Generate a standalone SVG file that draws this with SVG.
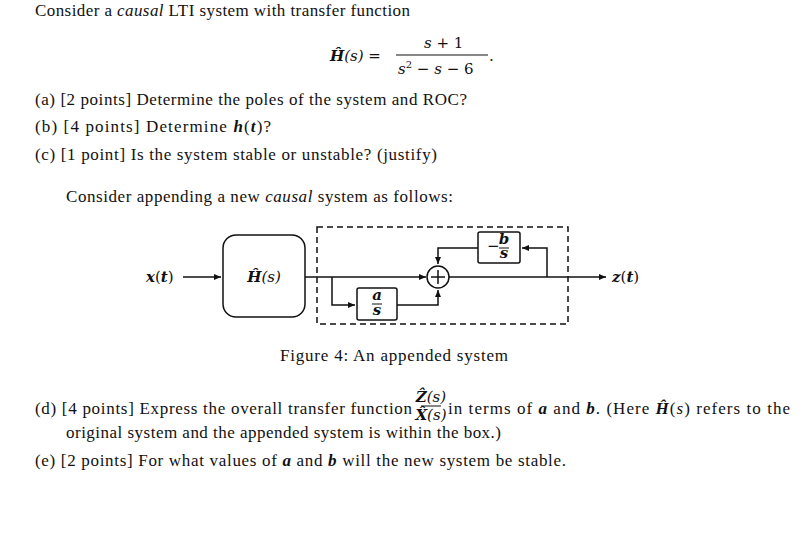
<svg xmlns="http://www.w3.org/2000/svg" width="804" height="536" viewBox="0 0 804 536">
<defs>
<style>
.t{font-family:"Liberation Serif",serif;font-size:17px;fill:#111}
.m{font-family:"DejaVu Serif","Liberation Serif",serif;font-size:15px;fill:#111;font-style:italic;font-weight:bold}
.mn{font-family:"DejaVu Serif",serif;font-size:15px;fill:#111}
.ln{stroke:#111;stroke-width:1.5;fill:none}
.bx{stroke:#111;stroke-width:1.5;fill:#fff}
</style>
<marker id="ar" markerWidth="8" markerHeight="8" refX="7" refY="4" orient="auto" markerUnits="userSpaceOnUse"><path d="M0,1 L7,4 L0,7 Z" fill="#111"/></marker>
</defs>
<rect width="804" height="536" fill="#fff"/>
<text class="t" x="35" y="16" textLength="375" lengthAdjust="spacing">Consider a <tspan font-style="italic">causal</tspan> LTI system with transfer function</text>
<text class="m" x="330" y="61">Ĥ<tspan font-weight="normal">(s) =</tspan></text>
<text class="mn" x="424" y="48" font-style="italic">s<tspan font-style="normal"> + 1</tspan></text>
<line x1="396" y1="55" x2="488" y2="55" stroke="#111" stroke-width="1"/>
<text class="mn" x="398" y="74" font-style="italic">s<tspan font-size="10" dy="-6" font-style="normal">2</tspan><tspan dy="6" font-style="normal"> − </tspan>s<tspan font-style="normal"> − 6</tspan></text>
<text class="mn" x="489" y="61">.</text>
<text class="t" x="35" y="105" textLength="432" lengthAdjust="spacing">(a)  [2 points]  Determine the poles of the system and ROC?</text>
<text class="t" x="35" y="132" textLength="236" lengthAdjust="spacing">(b)  [4 points]  Determine <tspan font-style="italic" font-weight="bold">h</tspan>(<tspan font-style="italic" font-weight="bold">t</tspan>)?</text>
<text class="t" x="35" y="160" textLength="402" lengthAdjust="spacing">(c)  [1 point]  Is the system stable or unstable? (justify)</text>
<text class="t" x="66" y="202" textLength="387" lengthAdjust="spacing">Consider appending a new <tspan font-style="italic">causal</tspan> system as follows:</text>
<g id="connectors">
<line class="ln" x1="183" y1="277" x2="221" y2="277" marker-end="url(#ar)"/>
<line class="ln" x1="305" y1="277" x2="426" y2="277" marker-end="url(#ar)"/>
<polyline class="ln" points="332,277 332,305 355,305" marker-end="url(#ar)"/>
<polyline class="ln" points="397,305 438,305 438,290" marker-end="url(#ar)"/>
<line class="ln" x1="449" y1="277" x2="606" y2="277" marker-end="url(#ar)"/>
<polyline class="ln" points="547,277 547,248 522,248" marker-end="url(#ar)"/>
<polyline class="ln" points="478,248 438,248 438,264" marker-end="url(#ar)"/>
</g>
<g id="box"><rect x="317" y="227" width="251" height="97" fill="none" stroke="#111" stroke-width="1.5" stroke-dasharray="6,4"/></g>
<g id="x"><text class="m" x="146" y="282">x<tspan font-weight="normal" font-style="normal">(</tspan>t<tspan font-weight="normal" font-style="normal">)</tspan></text></g>
<g id="H"><rect class="bx" x="223" y="235" width="82" height="82" rx="13"/><text class="m" x="264" y="282" text-anchor="middle">Ĥ<tspan font-weight="normal">(s)</tspan></text></g>
<g id="sum"><circle class="bx" cx="438" cy="277" r="11"/><line class="ln" x1="431" y1="277" x2="445" y2="277"/><line class="ln" x1="438" y1="270" x2="438" y2="284"/></g>
<g id="as"><rect class="bx" x="357" y="288" width="40" height="32" rx="2"/><text class="m" x="377" y="300" font-size="9" text-anchor="middle">a</text><line x1="372" y1="304" x2="382" y2="304" stroke="#111"/><text class="m" x="377" y="315" font-size="9" text-anchor="middle">s</text></g>
<g id="bs"><rect class="bx" x="478" y="232" width="42" height="31" rx="2"/><text class="mn" x="487" y="251" font-size="11">−</text><text class="m" x="504" y="244" font-size="9" text-anchor="middle">b</text><line x1="499" y1="248" x2="509" y2="248" stroke="#111"/><text class="m" x="504" y="258" font-size="9" text-anchor="middle">s</text></g>
<g id="z"><text class="m" x="612" y="282">z<tspan font-weight="normal" font-style="normal">(</tspan>t<tspan font-weight="normal" font-style="normal">)</tspan></text></g>
<text class="t" x="280" y="361" textLength="228" lengthAdjust="spacing">Figure 4: An appended system</text>
<text class="t" x="35" y="414" textLength="377" lengthAdjust="spacing">(d)  [4 points]  Express the overall transfer function</text>
<text class="m" x="431" y="402" font-size="8" text-anchor="middle">Ẑ<tspan font-weight="normal">(s)</tspan></text>
<line x1="421" y1="406" x2="441" y2="406" stroke="#111"/>
<text class="m" x="431" y="420" font-size="8" text-anchor="middle">X̂<tspan font-weight="normal">(s)</tspan></text>
<text class="t" x="448" y="414" textLength="342" lengthAdjust="spacing">in terms of <tspan font-style="italic" font-weight="bold">a</tspan> and <tspan font-style="italic" font-weight="bold">b</tspan>. (Here <tspan font-style="italic" font-weight="bold">Ĥ</tspan>(<tspan font-style="italic">s</tspan>) refers to the</text>
<text class="t" x="66" y="438" textLength="435" lengthAdjust="spacing">original system and the appended system is within the box.)</text>
<text class="t" x="35" y="466" textLength="531" lengthAdjust="spacing">(e)  [2 points]  For what values of <tspan font-style="italic" font-weight="bold">a</tspan> and <tspan font-style="italic" font-weight="bold">b</tspan> will the new system be stable.</text>
</svg>
